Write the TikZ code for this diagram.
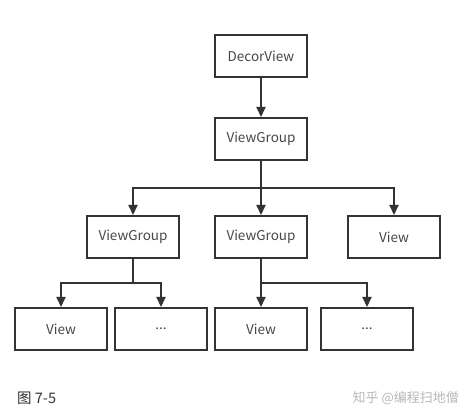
\documentclass[tikz,border=0pt]{standalone}
\usepackage{fontspec}
\setmainfont{Noto Sans CJK SC}
\usetikzlibrary{arrows.meta}
\definecolor{ln}{HTML}{333333}
\begin{document}
\begin{tikzpicture}[x=1pt,y=-1pt,
  box/.style={draw=ln,line width=2pt,minimum width=92pt,minimum height=42pt,inner sep=0pt,font=\fontsize{13.5}{15}\selectfont,text=ln!90},
  conn/.style={draw=ln,line width=2pt,-{Triangle[length=10pt,width=9pt]}}]
\useasboundingbox (0,0) rectangle (472,417);
\fill[white] (0,0) rectangle (472,417);
\node[box] (dv) at (261,56) {DecorView};
\node[box] (vg) at (261,139) {ViewGroup};
\node[box] (vg1) at (133,237) {ViewGroup};
\node[box] (vg2) at (261,237) {ViewGroup};
\node[box] (v3) at (394,237) {View};
\node[box] (a) at (61,329) {View};
\node[box] (b) at (161,329) {...};
\node[box] (c) at (261,329) {View};
\node[box] (d) at (367,329) {...};
\draw[conn] (dv) -- (vg);
\draw[conn] (vg) -- (vg2);
\coordinate (j1) at (261,188);
\draw[conn] (j1) -| (vg1);
\draw[conn] (j1) -| (v3);
\coordinate (j2) at (133,283);
\draw[conn] (vg1) -- (j2) -| (a);
\draw[conn] (j2) -| (b);
\draw[conn] (vg2) -- (c);
\coordinate (j3) at (261,283);
\draw[conn] (j3) -| (d);
\node[anchor=west,font=\fontsize{14.5}{16}\selectfont,text=ln,inner sep=0pt] (cap) at (17,398) {图 7-5};
\node[anchor=east,font=\fontsize{13}{15}\selectfont,text=black!28,inner sep=0pt] (wm) at (459,398) {知乎 @编程扫地僧};
\end{tikzpicture}
\end{document}
